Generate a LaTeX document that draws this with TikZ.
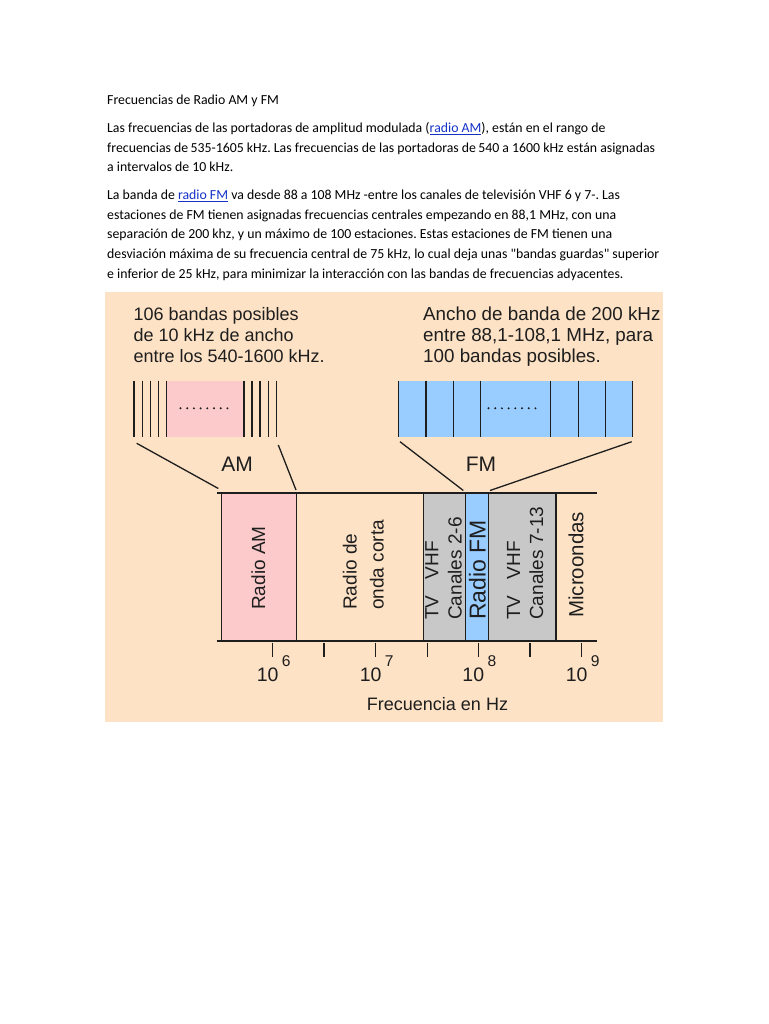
\documentclass[tikz,border=0pt]{standalone}
\usepackage{fontspec}
\setmainfont{Carlito}[Ligatures=TeXOff]
\newfontfamily\diagfont{Liberation Sans}
\definecolor{peach}{RGB}{253,226,197}
\definecolor{pinkc}{RGB}{252,202,202}
\definecolor{bluec}{RGB}{153,204,255}
\definecolor{grayc}{RGB}{200,200,200}
\definecolor{inkc}{RGB}{30,30,30}
\definecolor{linkc}{RGB}{20,50,200}
\tikzset{
  body/.style={anchor=base west, inner sep=0pt, font=\fontsize{13.8}{17}\selectfont},
  dtext/.style={anchor=base west, inner sep=0pt, text=inkc, font=\diagfont\fontsize{18}{21}\selectfont},
  rottext/.style={rotate=90, anchor=base west, inner sep=0pt, text=inkc, font=\diagfont\fontsize{19}{22}\selectfont},
  bandline/.style={draw=inkc, line width=1.5pt},
  axisline/.style={draw=inkc, line width=2.2pt},
  tickline/.style={draw=inkc, line width=1.3pt},
  zoomline/.style={draw=inkc, line width=1.3pt},
  dotrow/.style={draw=inkc, line width=2.2pt, line cap=round, dash pattern=on 0pt off 6.7pt},
  numtext/.style={inner sep=0pt, text=inkc, font=\diagfont\fontsize{19.5}{20}\selectfont},
  suptext/.style={anchor=base west, inner sep=0pt, text=inkc, font=\diagfont\fontsize{15.6}{17}\selectfont},
}
\newcommand{\lnk}[1]{\textcolor{linkc}{\underline{#1}}}
\frenchspacing
\begin{document}
\begin{tikzpicture}[x=1pt,y=-1pt]
\useasboundingbox[fill=white] (0,0) rectangle (768,1024);
% ---- body text ----
\node[body] (t1) at (107,105) {Frecuencias de Radio AM y FM};
\node[body] (t2) at (107,133) {Las frecuencias de las portadoras de amplitud modulada (\lnk{radio AM}), están en el rango de};
\node[body] (t3) at (107,152.5) {frecuencias de\,535-1605 kHz. Las frecuencias de las portadoras de\,540 a 1600 kHz están asignadas};
\node[body] (t4) at (107,172) {a intervalos de 10 kHz.};
\node[body] (t5) at (107,200) {La banda de \lnk{radio FM} va desde 88 a 108 MHz -entre los canales de televisión VHF 6 y 7-. Las};
\node[body] (t6) at (107,219.5) {estaciones de FM tienen asignadas frecuencias centrales empezando en 88,1 MHz, con una};
\node[body] (t7) at (107,239) {separación de 200 khz, y un máximo de 100 estaciones. Estas estaciones de FM tienen una};
\node[body] (t8) at (107,258.5) {desviación máxima de su frecuencia central de 75 kHz, lo cual deja unas "bandas guardas" superior};
\node[body] (t9) at (107,278) {e inferior de 25 kHz, para minimizar la interacción con las bandas de frecuencias adyacentes.};
% ---- diagram background ----
\fill[peach] (105,292) rectangle (663,722);
% ---- top captions ----
\node[dtext] (am1) at (133.3,320.7) {106 bandas posibles};
\node[dtext] (am2) at (133.3,341.7) {de 10 kHz de ancho};
\node[dtext] (am3) at (133.3,362.7) {entre los 540-1600 kHz.};
\node[dtext, font=\diagfont\fontsize{18.8}{21}\selectfont] (fm1) at (423,320.7) {Ancho de banda de 200 kHz};
\node[dtext, font=\diagfont\fontsize{18.8}{21}\selectfont] (fm2) at (423,341.7) {entre 88,1-108,1 MHz, para};
\node[dtext, font=\diagfont\fontsize{18.8}{21}\selectfont] (fm3) at (423,362.7) {100 bandas posibles.};
% ---- AM band strip ----
\fill[pinkc] (166.7,380.5) rectangle (243.3,436.7);
\foreach \x in {134,142.3,150.3,158.5,166.7,243.8,251.9,260,268.3,276.6}
  \draw[bandline] (\x,380.5) -- (\x,436.7);
\draw[dotrow] (180.5,408.3) -- (228.5,408.3);
% ---- FM band strip ----
\fill[bluec] (398.3,380.5) rectangle (632.3,436.7);
\foreach \x in {398.3,426,453.3,480.7,550.7,578.3,605.5,632.3}
  \draw[bandline] (\x,380.5) -- (\x,436.7);
\draw[dotrow] (488.5,408.3) -- (536,408.3);
% ---- zoom connectors ----
\coordinate (amA) at (136.7,443.3);
\coordinate (amB) at (218.3,488.5);
\coordinate (amC) at (278.3,445);
\coordinate (amD) at (296,490);
\coordinate (fmA) at (400,441.7);
\coordinate (fmB) at (463.3,490.5);
\coordinate (fmC) at (631.7,441.7);
\coordinate (fmD) at (490,490.5);
\draw[zoomline] (amA) -- (amB);
\draw[zoomline] (amC) -- (amD);
\draw[zoomline] (fmA) -- (fmB);
\draw[zoomline] (fmC) -- (fmD);
\node[anchor=base, inner sep=0pt, text=inkc, font=\diagfont\fontsize{21}{24}\selectfont] (amlab) at (237,471.7) {AM};
\node[anchor=base, inner sep=0pt, text=inkc, font=\diagfont\fontsize{21}{24}\selectfont] (fmlab) at (481,471.7) {FM};
% ---- spectrum bands ----
\fill[pinkc] (221.7,493) rectangle (296.7,641);
\fill[grayc] (423.3,493) rectangle (465.7,641);
\fill[bluec] (465.7,493) rectangle (488.3,641);
\fill[grayc] (488.3,493) rectangle (556,641);
\foreach \x in {221.7,296.7,423.3,465.7,488.3,556}
  \draw[bandline] (\x,493) -- (\x,641);
\draw[axisline] (216.5,493) -- (596.5,493);
\draw[axisline] (216.5,641) -- (596.5,641);
% ---- band labels ----
\node[rottext] (bAM) at (265,610) {Radio AM};
\node[rottext] (bSW1) at (356.7,610) {Radio de};
\node[rottext] (bSW2) at (383.5,610) {onda corta};
\node[rottext] (bTV1a) at (438.3,620) {TV\hspace{0.85em}VHF};
\node[rottext] (bTV1b) at (461.7,620) {Canales 2-6};
\node[rottext, font=\diagfont\fontsize{23}{26}\selectfont] (bFM) at (485.5,620) {Radio FM};
\node[rottext] (bTV2a) at (520,620) {TV\hspace{0.85em}VHF};
\node[rottext] (bTV2b) at (543,620) {Canales 7-13};
\node[rottext, font=\diagfont\fontsize{20.5}{24}\selectfont] (bMW) at (583.3,618) {Microondas};
% ---- ticks and scale ----
\foreach \x in {272.7,324,375.7,427.3,478.3,530,581.7}
  \draw[tickline] (\x,642.5) -- (\x,657);
\foreach \x/\e in {272.7/6,375.7/7,478.3/8,581.7/9}{
  \node[numtext, anchor=base east] at (\x+6,681.7) {10};
  \node[suptext] at (\x+9,666) {\e};
}
\node[anchor=base, inner sep=0pt, text=inkc, font=\diagfont\fontsize{18}{20}\selectfont] (xlab) at (437.5,710.7) {Frecuencia en Hz};
\end{tikzpicture}
\end{document}
